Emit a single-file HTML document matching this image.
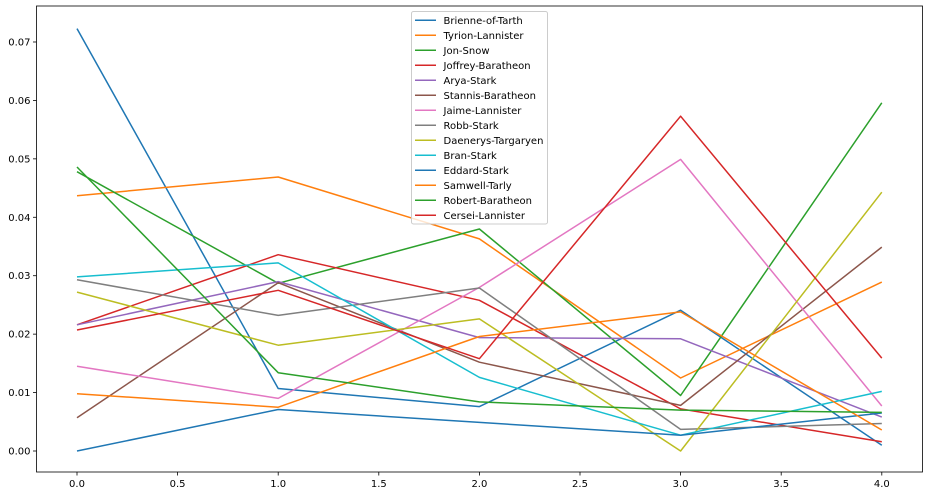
<!DOCTYPE html>
<html><head><meta charset="utf-8"><style>
body{margin:0;background:#fff;}
svg text{font-family:"DejaVu Sans","Liberation Sans",sans-serif;font-size:10px;fill:#000;}
</style></head><body>
<svg id="chart" width="928" height="496" xmlns="http://www.w3.org/2000/svg">
<g id="plot"></g>
<g id="axes"></g>
<g id="legend"></g>
</svg>
<script>
const xValues = [0, 1, 2, 3, 4];
const seriesNames = ["Brienne-of-Tarth","Tyrion-Lannister","Jon-Snow","Joffrey-Baratheon","Arya-Stark","Stannis-Baratheon","Jaime-Lannister","Robb-Stark","Daenerys-Targaryen","Bran-Stark","Eddard-Stark","Samwell-Tarly","Robert-Baratheon","Cersei-Lannister"];
const brienne = [0.0723, 0.0107, 0.0076, 0.0241, 0.0010];
const tyrion = [0.0437, 0.0469, 0.0363, 0.0125, 0.0289];
const jon = [0.0478, 0.0287, 0.0380, 0.0095, 0.0596];
const joffrey = [0.0216, 0.0336, 0.0258, 0.0072, 0.0016];
const arya = [0.0216, 0.0290, 0.0194, 0.0192, 0.0058];
const stannis = [0.0057, 0.0288, 0.0152, 0.0078, 0.0349];
const jaime = [0.0145, 0.0090, 0.0280, 0.0499, 0.0077];
const robb = [0.0293, 0.0232, 0.0279, 0.0037, 0.0047];
const daenerys = [0.0272, 0.0181, 0.0226, 0.0000, 0.0443];
const bran = [0.0298, 0.0322, 0.0126, 0.0027, 0.0102];
const eddard = [0.0000, 0.0071, 0.0049, 0.0027, 0.0065];
const samwell = [0.0098, 0.0075, 0.0196, 0.0238, 0.0036];
const robert = [0.0486, 0.0134, 0.0084, 0.0070, 0.0066];
const cersei = [0.0207, 0.0275, 0.0158, 0.0573, 0.0159];
const xTicks = [0, 0.5, 1, 1.5, 2, 2.5, 3, 3.5, 4];
const yTicks = [0, 0.01, 0.02, 0.03, 0.04, 0.05, 0.06, 0.07];

const allSeries = [brienne,tyrion,jon,joffrey,arya,stannis,jaime,robb,daenerys,bran,eddard,samwell,robert,cersei];
const colors = ["#1f77b4","#ff7f0e","#2ca02c","#d62728","#9467bd","#8c564b","#e377c2","#7f7f7f","#bcbd22","#17becf"];
const NS = "http://www.w3.org/2000/svg";
const L = 36.5, R = 922.5, T = 6, B = 472;
function xs(v){ return 77 + v * 201.2; }
function ys(v){ return 451 - v * 5843; }
function mk(tag, attrs, parent){ const e=document.createElementNS(NS,tag); for(const k in attrs) e.setAttribute(k,attrs[k]); parent.appendChild(e); return e; }
const plot=document.getElementById('plot'), axes=document.getElementById('axes'), legend=document.getElementById('legend');

allSeries.forEach((s,i)=>{
  const pts = s.map((v,j)=>xs(xValues[j]).toFixed(1)+","+ys(v).toFixed(1)).join(" ");
  const pl = mk('polyline',{points:pts,fill:'none',stroke:colors[i%10],'stroke-width':1.5,'stroke-linejoin':'round'},plot);
  
  
});

const frame = mk('rect',{x:L,y:T,width:R-L,height:B-T,fill:'none',stroke:'#000','stroke-width':0.8},axes);



xTicks.forEach(t=>{
  const x=xs(t);
  const tk = mk('line',{x1:x,x2:x,y1:B,y2:B+3.5,stroke:'#000','stroke-width':0.8},axes);
  
  
  const tx = mk('text',{x:x,y:B+15,'text-anchor':'middle'},axes);
  tx.textContent = t.toFixed(1);
  
  
});
yTicks.forEach(t=>{
  const y=ys(t);
  const tk = mk('line',{x1:L-3.5,x2:L,y1:y,y2:y,stroke:'#000','stroke-width':0.8},axes);
  
  
  const tx = mk('text',{x:L-6,y:y+3.5,'text-anchor':'end'},axes);
  tx.textContent = t.toFixed(2);
  
  
});

const lb = mk('rect',{x:411.5,y:11.5,width:136,height:212.5,rx:2,fill:'#fff','fill-opacity':0.8,stroke:'#ccc','stroke-width':1},legend);


seriesNames.forEach((n,i)=>{
  const y = 20.3 + i*15;
  const g = mk('g',{},legend);
  
  
  mk('line',{x1:415,x2:436,y1:y,y2:y,stroke:colors[i%10],'stroke-width':1.5},g);
  const tx = mk('text',{x:443.5,y:y+3.6},g);
  tx.textContent = n;
});
</script>
</body></html>
